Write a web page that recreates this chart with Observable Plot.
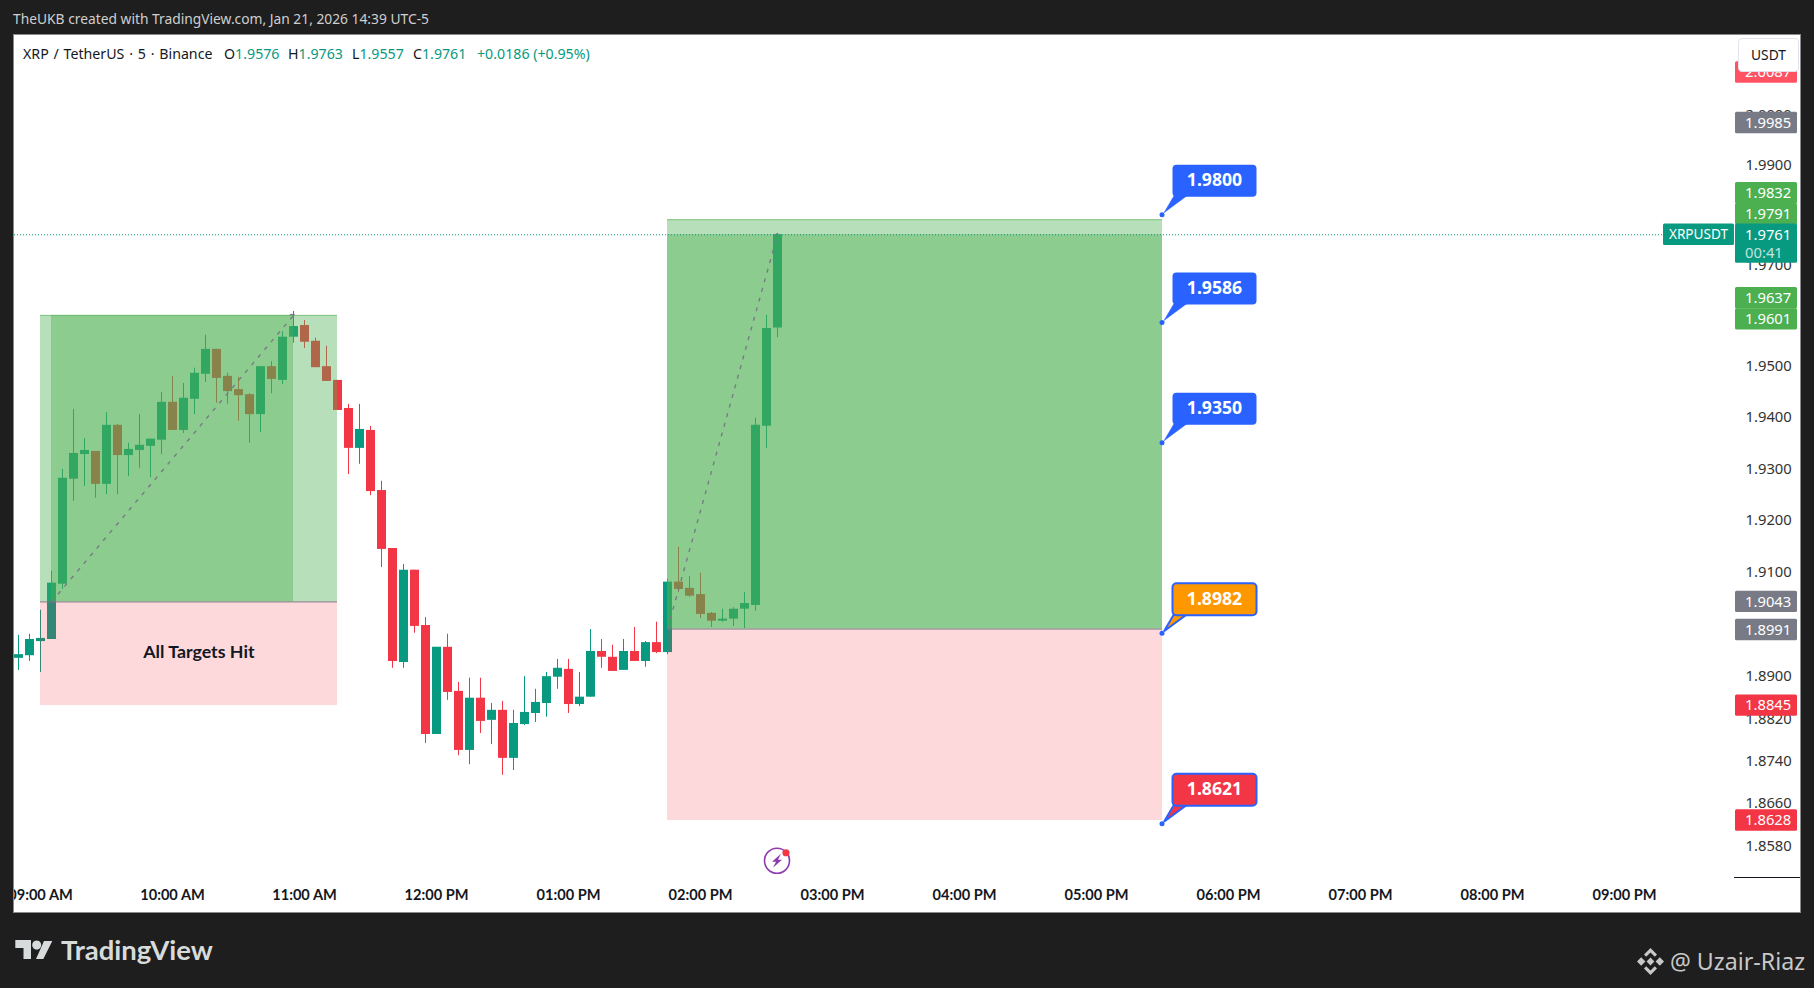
<!DOCTYPE html>
<html>
<head>
<meta charset="utf-8">
<script src="https://cdn.jsdelivr.net/npm/d3@7"></script>
<script src="https://cdn.jsdelivr.net/npm/@observablehq/plot@0.6"></script>
<style>
  html, body { margin: 0; padding: 0; background: #1e1e1e; width: 1814px; height: 988px; overflow: hidden; }
  body { position: relative; font-family: "Noto Sans", sans-serif; }
  #credit { position: absolute; left: 13px; top: 9px; color: #cfcfcf; font-size: 13.8px; line-height: 20px; white-space: nowrap; }
  #panel { position: absolute; left: 13px; top: 34px; width: 1786px; height: 877px; border: 1px solid #8a8a8a; background: #fff; overflow: hidden; }
  #chart { margin-top: -1px; }
  #chart svg { display: block; }
  .leg { position: absolute; top: 9px; font-size: 14.2px; line-height: 20px; white-space: nowrap; color: #089981; }
  .leg b { font-weight: 400; color: #131722; word-spacing: 1.1px; }
  #unit { position: absolute; left: 1724px; top: 3px; width: 59px; height: 32px; background: #fff; border: 1px solid #e0e3eb; border-radius: 4px; color: #131722; font-size: 13.8px; line-height: 32px; text-align: center; }
  #brand { position: absolute; left: 61px; top: 932px; color: #d8dbdb; font: 700 27.5px/36px Lato, sans-serif; }
  #logo { position: absolute; left: 15px; top: 940px; width: 38px; height: 20px; background: #d8dbdb;
    clip-path: path("M0.3 0H16V19H8.5V8H0.3ZM21.7 .5A4.5 4.5 0 1 1 21.69 .5ZM29 1H37.3L28.3 19H21Z"); }
  #binance { position: absolute; left: 1637px; top: 948px; width: 27px; height: 27px; background: #c8c8c8;
    clip-path: path("M13.5 0L20 6.5L17.8 8.7L13.5 4.4L9.2 8.7L7 6.5ZM4.2 9.3L8.4 13.5L4.2 17.7L0 13.5ZM22.8 9.3L27 13.5L22.8 17.7L18.6 13.5ZM13.5 9.6L17.4 13.5L13.5 17.4L9.6 13.5ZM7 20.5L9.2 18.3L13.5 22.6L17.8 18.3L20 20.5L13.5 27Z"); }
  #handle { position: absolute; left: 1670px; top: 945px; color: #c8c8c8; font: 400 23.2px/33px "Noto Sans", sans-serif; white-space: nowrap; }
</style>
</head>
<body>
<div id="credit"></div>
<div id="panel">
  <div id="chart"></div>
  <div id="legend"></div>
  <div id="unit">USDT</div>
</div>
<div id="logo"></div>
<div id="brand">TradingView</div>
<div id="binance"></div>
<div id="handle">@ Uzair-Riaz</div>
<script>
// ---------- data: 5-minute candles, time = minutes after 09:00 AM ----------
const open = [1.8935,1.8940,1.8967,1.8971,1.9077,1.9280,1.9328,1.9334,1.9270,1.9385,
  1.9326,1.9336,1.9344,1.9356,1.9430,1.9375,1.9436,1.9485,1.9534,1.9481,
  1.9455,1.9445,1.9406,1.9500,1.9473,1.9558,1.9581,1.9550,1.9500,1.9473,
  1.9418,1.9340,1.9375,1.9258,1.9146,1.8927,1.9104,1.8998,1.8790,1.8956,
  1.8872,1.8760,1.8859,1.8817,1.8836,1.8745,1.8809,1.8830,1.8849,1.8899,
  1.8914,1.8847,1.8861,1.8948,1.8937,1.8912,1.8948,1.8929,1.8965,1.8946,
  1.9081,1.9069,1.9057,1.9021,1.9006,1.9010,1.9029,1.9036,1.9383,1.9576];
const close = [1.8942,1.8971,1.8973,1.9079,1.9282,1.9330,1.9336,1.9270,1.9385,1.9326,
  1.9338,1.9346,1.9358,1.9430,1.9375,1.9438,1.9487,1.9534,1.9477,1.9451,
  1.9443,1.9406,1.9500,1.9475,1.9558,1.9579,1.9548,1.9498,1.9471,1.9414,
  1.9340,1.9377,1.9256,1.9144,1.8929,1.9104,1.8996,1.8790,1.8956,1.8870,
  1.8760,1.8859,1.8815,1.8836,1.8745,1.8811,1.8832,1.8851,1.8900,1.8916,
  1.8847,1.8861,1.8948,1.8937,1.8910,1.8948,1.8929,1.8965,1.8946,1.9081,
  1.9067,1.9054,1.9019,1.9006,1.9010,1.9029,1.9040,1.9385,1.9575,1.9761];
const high = [1.8979,1.8981,1.9027,1.9102,1.9299,1.9416,1.9359,1.9334,1.9410,1.9387,
  1.9350,1.9406,1.9358,1.9449,1.9481,1.9467,1.9497,1.9562,1.9534,1.9487,
  1.9479,1.9447,1.9500,1.9510,1.9569,1.9609,1.9591,1.9556,1.9540,1.9473,
  1.9426,1.9426,1.9383,1.9276,1.9146,1.9115,1.9104,1.9013,1.8956,1.8981,
  1.8889,1.8897,1.8897,1.8849,1.8853,1.8836,1.8900,1.8876,1.8908,1.8933,
  1.8933,1.8908,1.8990,1.8971,1.8960,1.8971,1.8994,1.8967,1.9004,1.9086,
  1.9148,1.9092,1.9098,1.9023,1.9029,1.9032,1.9061,1.9399,1.9601,1.9763];
const low = [1.8912,1.8929,1.8908,1.8971,1.9067,1.9237,1.9266,1.9243,1.9250,1.9250,
  1.9285,1.9301,1.9283,1.9328,1.9375,1.9369,1.9406,1.9469,1.9428,1.9426,
  1.9393,1.9350,1.9371,1.9447,1.9465,1.9546,1.9536,1.9498,1.9471,1.9414,
  1.9289,1.9309,1.9248,1.9109,1.8916,1.8916,1.8983,1.8773,1.8790,1.8855,
  1.8750,1.8733,1.8792,1.8771,1.8713,1.8722,1.8807,1.8813,1.8823,1.8876,
  1.8830,1.8843,1.8861,1.8916,1.8910,1.8912,1.8929,1.8918,1.8944,1.8942,
  1.9061,1.9052,1.9011,1.8994,1.9004,1.8996,1.8992,1.9025,1.9340,1.9557];
const firstCandleMinute = -10, candleStep = 5;

const timeTicks = [0,60,120,180,240,300,360,420,480,540,600,660,720];
const timeLabels = ["09:00 AM","10:00 AM","11:00 AM","12:00 PM","01:00 PM","02:00 PM","03:00 PM","04:00 PM","05:00 PM","06:00 PM","07:00 PM","08:00 PM","09:00 PM"];
const priceTicks = [2.0,1.99,1.98,1.97,1.96,1.95,1.94,1.93,1.92,1.91,1.90,1.89,1.882,1.874,1.866,1.858];

const lastPrice = 1.9761;
const countdown = "00:41";
const symbol = "XRPUSDT";

// long-position drawings
const rewardStart = [0, 5, 285, 285];
const rewardEnd   = [135, 115, 510, 510];
const rewardTop   = [1.9601, 1.9601, 1.9791, 1.9761];
const rewardBase  = [1.9043, 1.9043, 1.8991, 1.8991];
const riskStart = [0, 285];
const riskEnd   = [135, 510];
const riskTop   = [1.9043, 1.8991];
const riskBase  = [1.8845, 1.8628];
const pathStart = [5, 285];
const pathEnd   = [115, 335];
const pathFrom  = [1.9043, 1.8991];
const pathTo    = [1.9601, 1.9761];
const noteText = "All Targets Hit", noteMinute = 72, notePrice = 1.8946;

const calloutMinute = 510;
const calloutPrices = [1.9800, 1.9586, 1.9350, 1.8982, 1.8621];
const badgePrices = [2.0087, 1.9985, 1.9832, 1.9791, 1.9637, 1.9601, 1.9043, 1.8991, 1.8845, 1.8628];
const eventMinute = 335, eventPrice = 1.85516;

// ---------- styling, kept apart from the values ----------
const UP = "#089981", DOWN = "#F23645", GREY = "#787B86", GREEN = "#4CAF50", BLUE = "#2962FF", ORANGE = "#FF9800";
const calloutFill = [BLUE, BLUE, BLUE, ORANGE, DOWN];
const calloutEdge = [false, false, false, true, true];
const badgeFill = ["#FF5363", GREY, GREEN, GREEN, GREEN, GREEN, GREY, GREY, DOWN, DOWN];
const badgeShift = [0, 0, -6, -5.6, 1, 4, 0, 1, 0, 0];
const W = 1786, H = 878, RIGHT = 66, BOTTOM = 35;
const axisFont = '"Noto Sans", sans-serif';

// ---------- tables built from the arrays ----------
const candles = open.map((o, i) => ({t: firstCandleMinute + i * candleStep, o, c: close[i], h: high[i], l: low[i]}));
const rising = candles.filter(d => d.c >= d.o), falling = candles.filter(d => d.c < d.o);
const zip = (a, b, c, e) => a.map((v, i) => ({x1: v, x2: b[i], y1: c[i], y2: e[i]}));
const rewards = zip(rewardStart, rewardEnd, rewardTop, rewardBase);
const risks = zip(riskStart, riskEnd, riskTop, riskBase);
const paths = zip(pathStart, pathEnd, pathFrom, pathTo);

const candleMarks = (rows, color) => [
  Plot.ruleX(rows, {x: "t", y1: "l", y2: "h", stroke: color, strokeWidth: 1}),
  Plot.ruleX(rows, {x: "t", y1: "o", y2: "c", stroke: color, strokeWidth: 9})
];

function badges(index, {y}) {
  const left = W - RIGHT + 1, g = d3.create("svg:g").attr("font-family", axisFont).attr("font-size", 14.8);
  const box = (yc, h, fill, bx = left, bw = 62) =>
    g.append("rect").attr("x", bx).attr("y", yc - 10.7).attr("width", bw).attr("height", h).attr("rx", 1.5).attr("fill", fill);
  const label = (text, x, yc, fill, anchor = "start", op = 1) =>
    g.append("text").attr("x", x).attr("y", yc).attr("dy", "0.36em").attr("fill", fill).attr("fill-opacity", op).attr("text-anchor", anchor).text(text);
  badgePrices.forEach((p, i) => {
    const yc = y(p) + badgeShift[i];
    box(yc, 21.4, badgeFill[i]);
    label(p.toFixed(4), left + 10, yc, "#fff");
  });
  const yl = y(lastPrice);
  box(yl, 39.2, UP);
  box(yl, 21.4, UP, left - 72, 71);
  label(symbol, left - 36.5, yl, "#fff", "middle").attr("font-size", 13.6);
  label(lastPrice.toFixed(4), left + 10, yl, "#fff");
  label(countdown, left + 10, yl + 18.5, "#fff", "start", 0.75);
  g.append("line").attr("x1", W - RIGHT).attr("x2", W).attr("y1", H - BOTTOM + 0.5).attr("y2", H - BOTTOM + 0.5).attr("stroke", "#131722");
  return g.node();
}

function callouts(index, {x, y}) {
  const g = d3.create("svg:g").attr("font-family", axisFont);
  const cx = x(calloutMinute);
  calloutPrices.forEach((p, i) => {
    const cy = y(p), fill = calloutFill[i];
    g.append("circle").attr("cx", cx).attr("cy", cy).attr("r", 2.5).attr("fill", BLUE);
    g.append("path")
      .attr("d", `M${cx + 2} ${cy - 2}L${cx + 12} ${cy - 19}H${cx + 25}Z`)
      .attr("fill", fill).attr("stroke", BLUE).attr("stroke-width", calloutEdge[i] ? 2 : 0.5);
    g.append("rect")
      .attr("x", cx + 10.5).attr("y", cy - 50).attr("width", 84).attr("height", 32).attr("rx", 4)
      .attr("fill", fill).attr("stroke", BLUE).attr("stroke-width", calloutEdge[i] ? 2 : 0);
    g.append("text")
      .attr("x", cx + 52.5).attr("y", cy - 35).attr("dy", "0.36em").attr("text-anchor", "middle")
      .attr("fill", "#fff").attr("font-weight", 700).attr("font-size", 17.6).text(p.toFixed(4));
  });
  return g.node();
}

function eventIcon(index, {x, y}) {
  const cx = x(eventMinute), cy = y(eventPrice), purple = "#8E3BB0";
  const g = d3.create("svg:g");
  g.append("circle").attr("cx", cx).attr("cy", cy).attr("r", 12.5).attr("fill", "#fff").attr("stroke", purple).attr("stroke-width", 1.6);
  g.append("path").attr("d", `M${cx + 4} ${cy - 7}L${cx - 5} ${cy + 1}H${cx - 1}L${cx - 4} ${cy + 7}L${cx + 5} ${cy - 1}H${cx + 1}Z`).attr("fill", purple);
  g.append("circle").attr("cx", cx + 9).attr("cy", cy - 8).attr("r", 3.6).attr("fill", DOWN);
  return g.node();
}

const chart = Plot.plot({
  width: W, height: H,
  marginTop: 0, marginLeft: 0, marginRight: RIGHT, marginBottom: BOTTOM,
  style: {background: "transparent", fontFamily: axisFont, overflow: "hidden"},
  x: {type: "linear", domain: [-26 / 2.2, 770], range: [0, W - RIGHT]},
  y: {type: "log", domain: [1.8456, 2.0164], range: [H, 0]},
  marks: [
    ...candleMarks(rising, UP),
    ...candleMarks(falling, DOWN),
    Plot.rect(rewards, {x1: "x1", x2: "x2", y1: "y1", y2: "y2", fill: GREEN, fillOpacity: 0.4}),
    Plot.rect(risks, {x1: "x1", x2: "x2", y1: "y1", y2: "y2", fill: DOWN, fillOpacity: 0.19}),
    Plot.ruleY(rewards.slice(0, 1), {y: "y2", x1: "x1", x2: "x2", stroke: GREY, strokeWidth: 1}),
    Plot.ruleY(rewards.slice(2, 3), {y: "y2", x1: "x1", x2: "x2", stroke: GREY, strokeWidth: 1}),
    Plot.ruleY(rewards.slice(0, 1), {y: "y1", x1: "x1", x2: "x2", stroke: GREEN, strokeOpacity: 0.55, strokeWidth: 1}),
    Plot.ruleY(rewards.slice(2, 3), {y: "y1", x1: "x1", x2: "x2", stroke: GREEN, strokeOpacity: 0.55, strokeWidth: 1}),
    Plot.link(paths, {x1: "x1", x2: "x2", y1: "y1", y2: "y2", stroke: GREY, strokeWidth: 1.4, strokeDasharray: "4 6", markerEnd: "arrow"}),
    Plot.text([noteText], {x: () => noteMinute, y: () => notePrice, text: d => d, fill: "#131722", fontSize: 17.8, fontWeight: 700, fontFamily: "Lato, sans-serif"}),
    Plot.axisX({ticks: timeTicks, tickFormat: d => timeLabels[timeTicks.indexOf(d)], tickSize: 0, tickPadding: 12.5, label: null, fontSize: 14.6, fontWeight: 700, fontFamily: "Lato, sans-serif", color: "#131722"}),
    Plot.axisY({anchor: "right", ticks: priceTicks, tickFormat: d => d.toFixed(4), tickSize: 0, tickPadding: 11, label: null, fontSize: 14.8, color: "#333"}),
    Plot.ruleY([lastPrice], {stroke: UP, strokeWidth: 1, strokeDasharray: "1 2"}),
    badges,
    callouts,
    eventIcon
  ]
});
document.getElementById("chart").appendChild(chart);

// ---------- text around the plot ----------
document.getElementById("credit").textContent = "TheUKB created with TradingView.com, Jan 21, 2026 14:39 UTC-5";
const legendParts = [
  [9, "<b>XRP / TetherUS · 5 · Binance</b>"],
  [210, "<b>O</b>1.9576"], [274, "<b>H</b>1.9763"], [338, "<b>L</b>1.9557"], [399, "<b>C</b>1.9761"], [463, "+0.0186 (+0.95%)"]
];
document.getElementById("legend").innerHTML = legendParts.map(([x, h]) => `<span class="leg" style="left:${x}px">${h}</span>`).join("");
</script>
</body>
</html>
